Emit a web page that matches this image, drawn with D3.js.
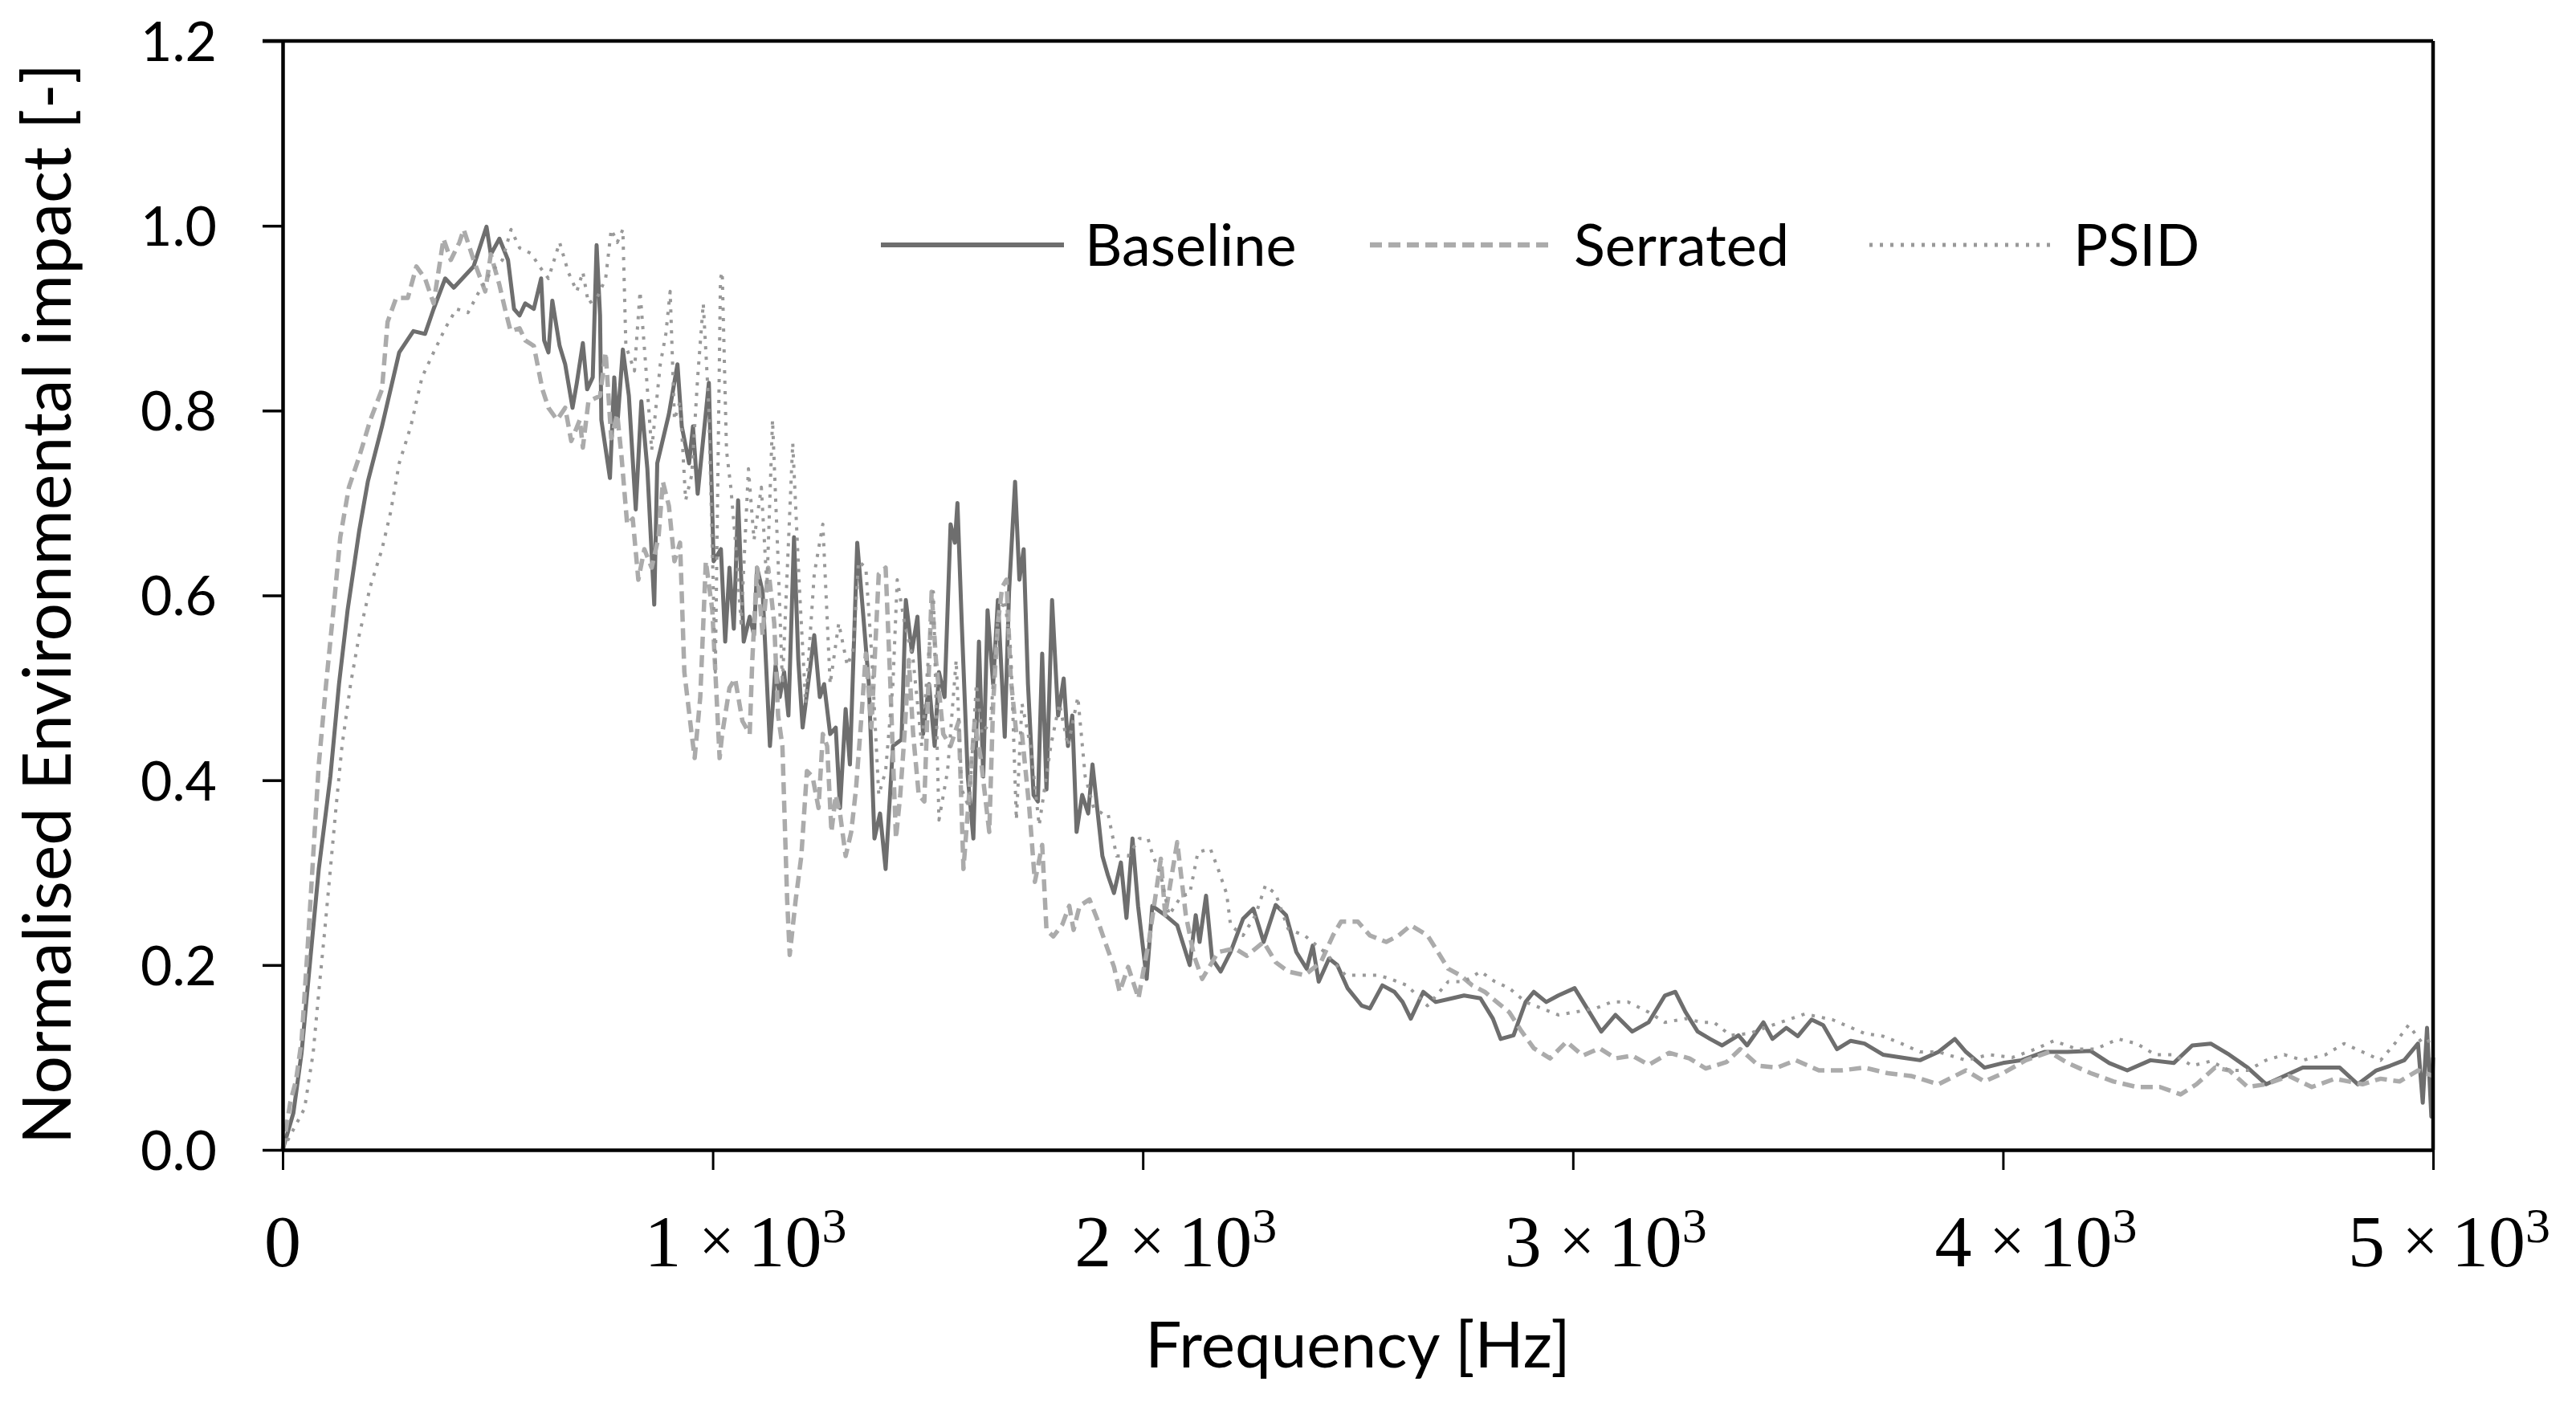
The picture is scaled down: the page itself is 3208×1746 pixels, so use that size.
<!DOCTYPE html>
<html>
<head>
<meta charset="utf-8">
<script src="https://cdn.jsdelivr.net/npm/d3@7"></script>
<style>
  html, body { margin: 0; padding: 0; background: #ffffff; overflow: hidden; }
  svg { display: block; }
</style>
</head>
<body>
<div id="chart"></div>
<script>
// frequency [Hz] and normalised impact, one pair of arrays per configuration
var baselineHz = [0, 25, 44, 64, 84, 111, 131, 151, 178, 198, 231, 271, 304, 331, 351, 378, 398, 444, 474, 484, 504, 524, 538, 551, 564, 584, 601, 608, 618, 627, 644, 657, 674, 684, 698, 708, 721, 730, 738, 741, 761, 771, 778, 791, 805, 821, 834, 848, 864, 871, 898, 918, 928, 945, 954, 965, 991, 1002, 1019, 1029, 1039, 1049, 1059, 1072, 1086, 1096, 1103, 1116, 1133, 1146, 1156, 1166, 1176, 1189, 1199, 1209, 1236, 1249, 1259, 1273, 1286, 1296, 1309, 1319, 1336, 1349, 1363, 1376, 1389, 1402, 1419, 1439, 1449, 1463, 1476, 1489, 1503, 1516, 1526, 1539, 1553, 1563, 1569, 1579, 1593, 1606, 1619, 1629, 1639, 1652, 1663, 1679, 1689, 1703, 1713, 1723, 1733, 1746, 1756, 1766, 1776, 1789, 1803, 1816, 1826, 1836, 1846, 1859, 1873, 1883, 1906, 1919, 1933, 1949, 1962, 1976, 1989, 2009, 2022, 2052, 2080, 2109, 2123, 2132, 2147, 2161, 2181, 2204, 2233, 2257, 2281, 2309, 2333, 2357, 2381, 2395, 2409, 2433, 2452, 2476, 2509, 2528, 2557, 2585, 2604, 2623, 2652, 2681, 2719, 2747, 2785, 2814, 2832, 2862, 2890, 2909, 2938, 2966, 3004, 3033, 3066, 3099, 3138, 3176, 3214, 3238, 3262, 3290, 3319, 3347, 3385, 3405, 3443, 3464, 3496, 3523, 3555, 3582, 3614, 3646, 3678, 3721, 3764, 3807, 3850, 3888, 3914, 3957, 4000, 4043, 4096, 4150, 4204, 4247, 4289, 4343, 4397, 4440, 4483, 4526, 4569, 4612, 4654, 4697, 4750, 4783, 4825, 4868, 4900, 4933, 4965, 4976, 4986, 4996, 5000];
var baselineVal = [0, 0.04, 0.105, 0.205, 0.304, 0.404, 0.504, 0.584, 0.67, 0.723, 0.783, 0.863, 0.886, 0.883, 0.91, 0.943, 0.933, 0.956, 0.999, 0.969, 0.986, 0.963, 0.91, 0.903, 0.916, 0.91, 0.943, 0.876, 0.863, 0.919, 0.87, 0.85, 0.803, 0.83, 0.873, 0.823, 0.836, 0.979, 0.903, 0.79, 0.727, 0.836, 0.783, 0.866, 0.816, 0.693, 0.81, 0.737, 0.59, 0.743, 0.796, 0.85, 0.783, 0.743, 0.783, 0.71, 0.83, 0.637, 0.65, 0.55, 0.63, 0.564, 0.703, 0.55, 0.577, 0.557, 0.63, 0.604, 0.437, 0.524, 0.49, 0.517, 0.47, 0.663, 0.53, 0.457, 0.557, 0.49, 0.504, 0.45, 0.457, 0.37, 0.477, 0.417, 0.657, 0.584, 0.504, 0.337, 0.364, 0.304, 0.437, 0.444, 0.595, 0.539, 0.577, 0.45, 0.504, 0.437, 0.517, 0.49, 0.677, 0.657, 0.70, 0.57, 0.404, 0.337, 0.55, 0.404, 0.584, 0.504, 0.595, 0.447, 0.604, 0.723, 0.617, 0.65, 0.504, 0.384, 0.377, 0.537, 0.39, 0.595, 0.47, 0.51, 0.437, 0.47, 0.344, 0.384, 0.364, 0.417, 0.318, 0.297, 0.278, 0.311, 0.251, 0.337, 0.264, 0.185, 0.264, 0.254, 0.243, 0.20, 0.254, 0.225, 0.275, 0.207, 0.193, 0.214, 0.25, 0.261, 0.225, 0.265, 0.254, 0.214, 0.196, 0.221, 0.182, 0.207, 0.20, 0.175, 0.156, 0.153, 0.178, 0.171, 0.16, 0.142, 0.171, 0.16, 0.164, 0.167, 0.164, 0.142, 0.12, 0.124, 0.16, 0.171, 0.16, 0.167, 0.175, 0.153, 0.128, 0.146, 0.128, 0.138, 0.167, 0.171, 0.149, 0.128, 0.12, 0.113, 0.124, 0.113, 0.138, 0.12, 0.132, 0.123, 0.141, 0.135, 0.109, 0.118, 0.115, 0.103, 0.10, 0.097, 0.106, 0.12, 0.106, 0.089, 0.094, 0.097, 0.106, 0.106, 0.107, 0.094, 0.086, 0.097, 0.094, 0.113, 0.115, 0.103, 0.089, 0.071, 0.08, 0.089, 0.089, 0.089, 0.071, 0.086, 0.091, 0.097, 0.115, 0.051, 0.132, 0.036, 0.10];

var serratedHz = [0, 18, 31, 44, 58, 71, 84, 101, 118, 134, 154, 178, 204, 231, 244, 264, 291, 311, 331, 351, 374, 391, 411, 421, 444, 471, 484, 504, 517, 530, 551, 564, 584, 604, 618, 638, 657, 671, 691, 698, 711, 738, 751, 764, 778, 788, 801, 814, 827, 841, 858, 874, 884, 898, 911, 924, 934, 951, 958, 971, 984, 999, 1016, 1022, 1039, 1052, 1069, 1086, 1092, 1103, 1116, 1129, 1143, 1152, 1162, 1173, 1179, 1193, 1206, 1219, 1232, 1246, 1256, 1266, 1276, 1286, 1296, 1309, 1322, 1333, 1346, 1356, 1369, 1386, 1402, 1413, 1426, 1436, 1446, 1456, 1466, 1479, 1492, 1509, 1519, 1536, 1553, 1572, 1583, 1596, 1609, 1623, 1643, 1652, 1663, 1673, 1683, 1693, 1706, 1719, 1736, 1749, 1766, 1776, 1792, 1813, 1829, 1839, 1853, 1876, 1893, 1913, 1933, 1946, 1966, 1990, 2003, 2014, 2042, 2052, 2080, 2100, 2119, 2138, 2175, 2214, 2242, 2281, 2309, 2338, 2376, 2414, 2442, 2461, 2500, 2528, 2566, 2595, 2623, 2662, 2681, 2710, 2738, 2766, 2795, 2823, 2852, 2881, 2909, 2947, 2985, 3023, 3062, 3099, 3138, 3176, 3224, 3271, 3309, 3357, 3389, 3432, 3475, 3518, 3572, 3625, 3678, 3732, 3786, 3850, 3914, 3957, 4000, 4053, 4108, 4150, 4204, 4257, 4311, 4365, 4413, 4450, 4493, 4526, 4569, 4612, 4665, 4718, 4772, 4836, 4878, 4922, 4965, 5000];
var serratedVal = [0, 0.052, 0.075, 0.118, 0.218, 0.318, 0.417, 0.504, 0.584, 0.663, 0.717, 0.75, 0.79, 0.823, 0.896, 0.922, 0.922, 0.956, 0.943, 0.916, 0.986, 0.963, 0.982, 0.996, 0.963, 0.929, 0.969, 0.936, 0.91, 0.886, 0.889, 0.876, 0.87, 0.823, 0.803, 0.79, 0.803, 0.767, 0.79, 0.76, 0.81, 0.816, 0.863, 0.77, 0.796, 0.75, 0.677, 0.683, 0.617, 0.65, 0.63, 0.663, 0.723, 0.697, 0.637, 0.657, 0.517, 0.45, 0.424, 0.49, 0.637, 0.584, 0.424, 0.45, 0.50, 0.51, 0.464, 0.45, 0.53, 0.63, 0.557, 0.63, 0.57, 0.47, 0.437, 0.271, 0.211, 0.271, 0.318, 0.41, 0.404, 0.37, 0.45, 0.437, 0.344, 0.384, 0.364, 0.318, 0.344, 0.39, 0.47, 0.537, 0.457, 0.623, 0.63, 0.504, 0.337, 0.384, 0.45, 0.53, 0.45, 0.384, 0.377, 0.604, 0.53, 0.45, 0.437, 0.464, 0.304, 0.384, 0.464, 0.424, 0.344, 0.483, 0.57, 0.609, 0.617, 0.51, 0.45, 0.45, 0.37, 0.29, 0.33, 0.238, 0.231, 0.244, 0.264, 0.238, 0.264, 0.271, 0.251, 0.224, 0.198, 0.171, 0.198, 0.164, 0.198, 0.225, 0.315, 0.254, 0.333, 0.254, 0.21, 0.185, 0.214, 0.218, 0.21, 0.225, 0.203, 0.193, 0.189, 0.203, 0.232, 0.247, 0.247, 0.232, 0.225, 0.232, 0.243, 0.232, 0.218, 0.196, 0.189, 0.178, 0.171, 0.16, 0.149, 0.128, 0.11, 0.099, 0.117, 0.102, 0.11, 0.099, 0.102, 0.092, 0.105, 0.099, 0.088, 0.095, 0.109, 0.091, 0.089, 0.097, 0.086, 0.086, 0.089, 0.083, 0.08, 0.071, 0.086, 0.074, 0.083, 0.097, 0.106, 0.094, 0.083, 0.074, 0.068, 0.068, 0.06, 0.071, 0.089, 0.086, 0.068, 0.071, 0.08, 0.068, 0.077, 0.071, 0.077, 0.074, 0.086, 0.08];

var psidHz = [0, 51, 71, 84, 98, 111, 124, 138, 158, 178, 204, 231, 251, 271, 298, 324, 351, 378, 404, 431, 457, 484, 511, 531, 551, 578, 597, 618, 644, 664, 684, 698, 711, 731, 751, 764, 778, 791, 798, 818, 831, 844, 858, 878, 891, 901, 911, 924, 937, 951, 965, 978, 991, 1006, 1018, 1022, 1032, 1042, 1052, 1066, 1083, 1096, 1113, 1126, 1139, 1152, 1162, 1186, 1202, 1216, 1236, 1256, 1273, 1293, 1313, 1326, 1339, 1356, 1369, 1386, 1402, 1419, 1429, 1446, 1466, 1486, 1513, 1526, 1546, 1566, 1579, 1596, 1613, 1626, 1646, 1663, 1679, 1693, 1706, 1719, 1739, 1759, 1786, 1806, 1826, 1849, 1866, 1886, 1906, 1919, 1939, 1966, 1992, 2012, 2023, 2042, 2061, 2090, 2109, 2128, 2157, 2175, 2195, 2204, 2233, 2262, 2285, 2309, 2338, 2376, 2423, 2471, 2509, 2547, 2576, 2614, 2662, 2710, 2747, 2785, 2819, 2852, 2890, 2928, 2966, 3004, 3052, 3090, 3128, 3176, 3214, 3262, 3300, 3328, 3366, 3411, 3464, 3539, 3603, 3678, 3721, 3764, 3807, 3850, 3914, 3968, 4022, 4075, 4118, 4172, 4215, 4268, 4311, 4354, 4397, 4440, 4483, 4526, 4569, 4612, 4654, 4697, 4750, 4793, 4836, 4878, 4911, 4943, 4976, 5000];
var psidVal = [0, 0.045, 0.105, 0.171, 0.238, 0.304, 0.37, 0.437, 0.504, 0.557, 0.61, 0.65, 0.69, 0.743, 0.783, 0.836, 0.863, 0.889, 0.91, 0.906, 0.929, 0.95, 0.963, 0.996, 0.976, 0.97, 0.956, 0.943, 0.982, 0.95, 0.929, 0.95, 0.916, 0.922, 0.943, 0.996, 0.982, 0.996, 0.87, 0.843, 0.929, 0.85, 0.757, 0.85, 0.883, 0.929, 0.79, 0.81, 0.703, 0.73, 0.836, 0.916, 0.803, 0.517, 0.943, 0.95, 0.757, 0.717, 0.663, 0.57, 0.737, 0.66, 0.717, 0.61, 0.79, 0.637, 0.504, 0.765, 0.604, 0.483, 0.623, 0.677, 0.504, 0.57, 0.524, 0.54, 0.637, 0.63, 0.54, 0.384, 0.41, 0.504, 0.617, 0.57, 0.53, 0.437, 0.604, 0.357, 0.41, 0.53, 0.39, 0.37, 0.504, 0.45, 0.464, 0.577, 0.595, 0.54, 0.357, 0.483, 0.437, 0.351, 0.437, 0.483, 0.437, 0.49, 0.404, 0.37, 0.364, 0.364, 0.318, 0.318, 0.337, 0.337, 0.319, 0.297, 0.254, 0.275, 0.277, 0.322, 0.326, 0.304, 0.277, 0.243, 0.232, 0.254, 0.286, 0.277, 0.239, 0.232, 0.214, 0.189, 0.189, 0.189, 0.185, 0.178, 0.156, 0.182, 0.182, 0.193, 0.182, 0.175, 0.16, 0.153, 0.146, 0.149, 0.153, 0.16, 0.16, 0.149, 0.138, 0.142, 0.138, 0.138, 0.124, 0.126, 0.135, 0.147, 0.141, 0.126, 0.123, 0.115, 0.106, 0.106, 0.097, 0.103, 0.1, 0.109, 0.118, 0.109, 0.109, 0.12, 0.115, 0.103, 0.103, 0.091, 0.096, 0.086, 0.086, 0.097, 0.103, 0.097, 0.103, 0.115, 0.106, 0.097, 0.115, 0.135, 0.115, 0.12];

var seriesNames = ["Baseline", "Serrated", "PSID"];
var yTicks = [0, 0.2, 0.4, 0.6, 0.8, 1.0, 1.2];
var xTicks = [0, 1000, 2000, 3000, 4000, 5000];
var xTickMantissa = ["0", "1", "2", "3", "4", "5"];

//define outer size
var outerWidth = 3208;
var outerHeight = 1746;

//define margins (plot box edges)
var margin = { top: 51, right: 178, bottom: 314, left: 352 };

var innerWidth = outerWidth - (margin.left + margin.right);
var innerHeight = outerHeight - (margin.top + margin.bottom);

var sansFont = "Lato, 'Open Sans', sans-serif";
var serifFont = "'Liberation Serif', 'DejaVu Serif', serif";

var svg = d3
  .select("#chart")
  .append("svg")
  .attr("width", outerWidth)
  .attr("height", outerHeight);

svg
  .append("rect")
  .attr("width", outerWidth)
  .attr("height", outerHeight)
  .attr("fill", "#ffffff");

var g = svg
  .append("g")
  .attr("transform", "translate(" + margin.left + "," + margin.top + ")");

//define scales
var xScale = d3.scaleLinear().domain([0, 5000]).range([0, innerWidth]);
var yScale = d3.scaleLinear().domain([0, 1.2]).range([innerHeight, 0]);

//series styles
var series = [
  { name: seriesNames[0], hz: baselineHz, val: baselineVal, color: "#6e6e6e", width: 5, dash: null },
  { name: seriesNames[1], hz: serratedHz, val: serratedVal, color: "#ababab", width: 5.5, dash: "15,8" },
  { name: seriesNames[2], hz: psidHz, val: psidVal, color: "#999999", width: 4, dash: "4,9" }
];

var line = d3
  .line()
  .x(function(d) {
    return xScale(d[0]);
  })
  .y(function(d) {
    return yScale(d[1]);
  });

series.forEach(function(s) {
  var pts = s.hz.map(function(h, i) {
    return [h, s.val[i]];
  });
  g.append("path")
    .datum(pts)
    .attr("d", line)
    .attr("fill", "none")
    .attr("stroke", s.color)
    .attr("stroke-width", s.width)
    .attr("stroke-linejoin", "round")
    .attr("stroke-dasharray", s.dash);
});

//y axis
var yAxis = d3
  .axisLeft(yScale)
  .tickValues(yTicks)
  .tickSize(25)
  .tickSizeOuter(0)
  .tickPadding(57)
  .tickFormat(d3.format(".1f"));

var yG = g.append("g").attr("class", "y axis").call(yAxis);
yG.select(".domain").attr("stroke", "#000").attr("stroke-width", 4.5);
yG.selectAll(".tick line").attr("stroke", "#000").attr("stroke-width", 3.5);
yG.selectAll(".tick text")
  .attr("fill", "#000")
  .attr("dy", "0.36em")
  .style("font-family", sansFont)
  .style("font-size", "68px");

//x axis, labels added by hand below
var xAxis = d3
  .axisBottom(xScale)
  .tickValues(xTicks)
  .tickSize(25)
  .tickSizeOuter(0)
  .tickFormat("");

var xG = g
  .append("g")
  .attr("class", "x axis")
  .attr("transform", "translate(0," + innerHeight + ")")
  .call(xAxis);
xG.select(".domain").attr("stroke", "#000").attr("stroke-width", 4.5);
xG.selectAll(".tick line").attr("stroke", "#000").attr("stroke-width", 3);

//top and right frame lines
g.append("line")
  .attr("x1", -25)
  .attr("x2", innerWidth)
  .attr("y1", 0)
  .attr("y2", 0)
  .attr("stroke", "#000")
  .attr("stroke-width", 4.5);
g.append("line")
  .attr("x1", innerWidth)
  .attr("x2", innerWidth)
  .attr("y1", 0)
  .attr("y2", innerHeight)
  .attr("stroke", "#000")
  .attr("stroke-width", 4.5);

//x tick labels in "n × 10^3" form
var labelY = innerHeight + 145;
xTicks.forEach(function(t, i) {
  var cx = xScale(t);
  if (t === 0) {
    g.append("text")
      .attr("x", cx)
      .attr("y", labelY)
      .attr("text-anchor", "middle")
      .style("font-family", serifFont)
      .style("font-size", "92px")
      .text(xTickMantissa[i]);
    return;
  }
  //the last label sits a little to the left so it stays on the page
  var cxm = i === xTicks.length - 1 ? cx - 16 : cx + 5;
  g.append("text")
    .attr("x", cxm - 44)
    .attr("y", labelY)
    .attr("text-anchor", "end")
    .style("font-family", serifFont)
    .style("font-size", "92px")
    .text(xTickMantissa[i]);
  g.append("text")
    .attr("x", cxm)
    .attr("y", labelY - 6)
    .attr("text-anchor", "middle")
    .style("font-family", serifFont)
    .style("font-size", "78px")
    .text("\u00d7");
  var pw = g
    .append("text")
    .attr("x", cxm + 39)
    .attr("y", labelY)
    .attr("text-anchor", "start")
    .style("font-family", serifFont)
    .style("font-size", "92px");
  pw.append("tspan").text("10");
  pw.append("tspan")
    .attr("dy", -30)
    .style("font-size", "62px")
    .text("3");
});

//axis titles
svg
  .append("text")
  .attr("x", margin.left + innerWidth / 2)
  .attr("y", 1703)
  .attr("text-anchor", "middle")
  .style("font-family", sansFont)
  .style("font-size", "80px")
  .text("Frequency [Hz]");

svg
  .append("text")
  .attr("transform", "translate(" + 88 + "," + 752 + ") rotate(-90)")
  .attr("text-anchor", "middle")
  .style("font-family", sansFont)
  .style("font-size", "84px")
  .text("Normalised Environmental impact [-]");

//legend inside the plot
var legendX = [1097, 1706, 2328];
var legendY = 305;
series.forEach(function(s, i) {
  svg
    .append("line")
    .attr("x1", legendX[i])
    .attr("x2", legendX[i] + 228)
    .attr("y1", legendY)
    .attr("y2", legendY)
    .attr("stroke", s.color)
    .attr("stroke-width", s.width + 1)
    .attr("stroke-dasharray", s.dash);
  svg
    .append("text")
    .attr("x", legendX[i] + 254)
    .attr("y", legendY + 26)
    .style("font-family", sansFont)
    .style("font-size", "72px")
    .attr("fill", "#000")
    .text(s.name);
});
</script>
</body>
</html>
